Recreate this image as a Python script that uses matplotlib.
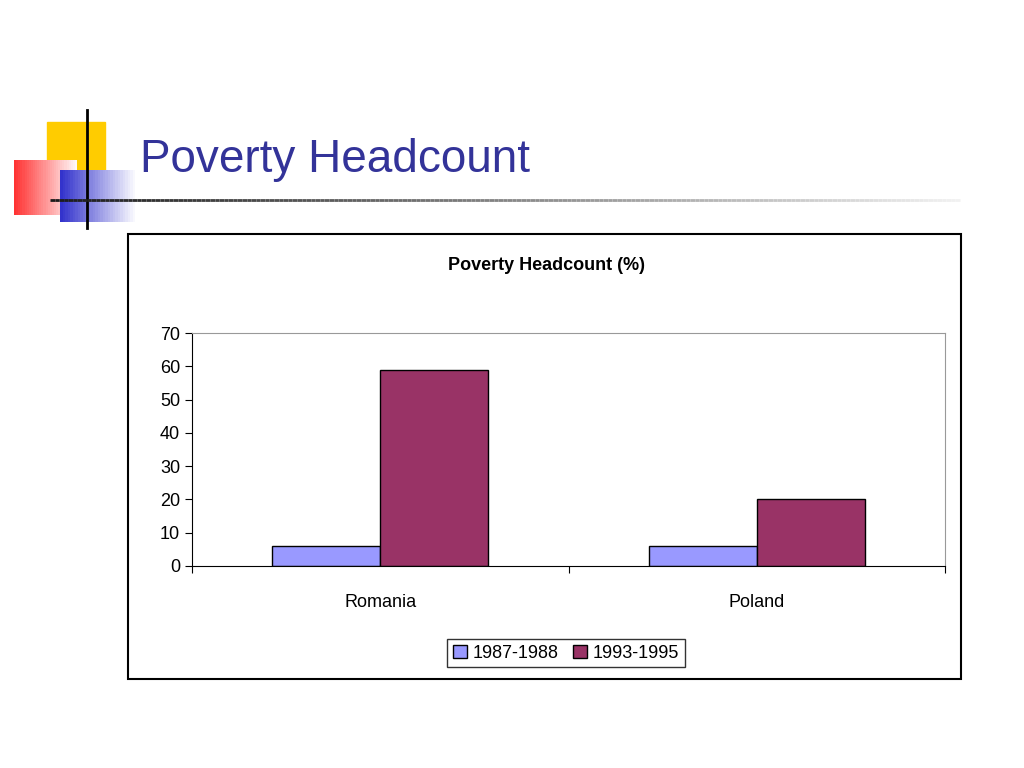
import matplotlib
matplotlib.use("Agg")
import matplotlib.pyplot as plt
from matplotlib.patches import Rectangle
import numpy as np

plt.rcParams['font.family'] = ['Liberation Sans', 'DejaVu Sans']

categories = ["Romania", "Poland"]
series_names = ["1987-1988", "1993-1995"]
values_8788 = [6, 6]
values_9395 = [59, 20]
yticks = [0, 10, 20, 30, 40, 50, 60, 70]

W, H = 1024, 768
fig = plt.figure(figsize=(W/100, H/100), dpi=100)

def fx(px): return px / W
def fy(py): return 1 - py / H

# decorations
deco = fig.add_axes([0, 0, 1, 1], zorder=0)
deco.set_xlim(0, W); deco.set_ylim(H, 0); deco.axis('off')
deco.add_patch(Rectangle((47, 122), 58, 58, color='#FFCC00'))
# red gradient
for i in range(30):
    a = 1 - i / 30
    deco.add_patch(Rectangle((14 + i*2.1, 160), 2.2, 55, color=(1, 0.2 + 0.8*(1-a), 0.2 + 0.8*(1-a)), lw=0))
for i in range(30):
    t = i / 30
    deco.add_patch(Rectangle((60 + i*2.5, 170), 2.6, 52, color=(0.2 + 0.8*t, 0.2 + 0.8*t, 0.8 + 0.2*t), lw=0))
deco.plot([87, 87], [110, 228], color='black', lw=2)
xs = np.linspace(50, 960, 200)
for i in range(len(xs)-1):
    g = min(0.95, 0.1 + 0.85 * i / 199)
    deco.plot(xs[i:i+2], [200, 200], color=(g, g, g), lw=2, solid_capstyle='butt')
deco.text(140, 160, "Poverty Headcount", fontsize=33, color='#333399', va='center', ha='left')
deco.add_patch(Rectangle((128, 234), 833, 445, fill=False, ec='black', lw=1.5))
deco.text(546, 266, "Poverty Headcount (%)", fontsize=13, fontweight='bold', ha='center', va='center')

ax = fig.add_axes([fx(192), fy(566), fx(945) - fx(192), fy(333) - fy(566)], zorder=1)
x = np.arange(len(categories))
w = 0.287
ax.bar(x - w/2, values_8788, w, color='#9999FF', edgecolor='black', lw=1, label=series_names[0])
ax.bar(x + w/2, values_9395, w, color='#993366', edgecolor='black', lw=1, label=series_names[1])
ax.set_xlim(-0.5, 1.5)
ax.set_ylim(0, 70)
ax.set_yticks(yticks)
ax.tick_params(axis='y', labelsize=13, length=5)
ax.set_xticks([-0.5, 0.5, 1.5])
ax.set_xticklabels([])
ax.set_xticks(x, minor=True)
ax.set_xticklabels(categories, minor=True, fontsize=13)
ax.tick_params(axis='x', which='minor', length=0, pad=20)
ax.tick_params(axis='x', which='major', length=5)
for s in ['top', 'right']:
    ax.spines[s].set_color('#999999')
leg = fig.legend(loc='center', bbox_to_anchor=(fx(566), fy(653)), ncol=2, fontsize=13,
                 frameon=True, fancybox=False, edgecolor='black', handlelength=0.8,
                 handletextpad=0.3, columnspacing=0.8, borderpad=0.3)
leg.get_frame().set_linewidth(1)
fig.savefig("out.png", dpi=100)
